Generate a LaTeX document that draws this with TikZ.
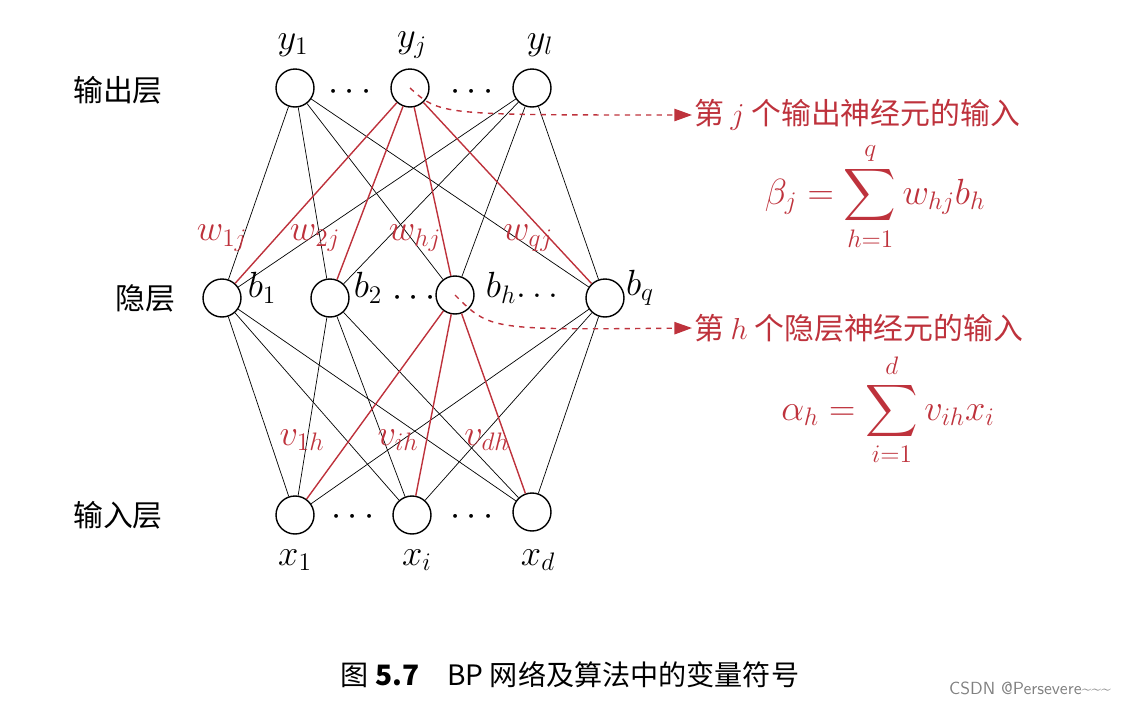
\documentclass[tikz,border=0pt]{standalone}
\usepackage{exscale}
\usepackage{fontspec}
\newfontfamily\cjk{Noto Sans CJK SC}
\usetikzlibrary{arrows.meta}
\definecolor{myred}{RGB}{190,50,60}
\begin{document}
\begin{tikzpicture}[x=0.02cm,y=-0.02cm,
  neuron/.style={circle,draw,thick,minimum size=0.76cm,inner sep=0pt},
  conn/.style={black,thin},
  rconn/.style={myred,thick},
  lbl/.style={font=\fontsize{21}{24}\selectfont},
  rlbl/.style={font=\fontsize{21}{24}\selectfont,text=myred},
  darr/.style={myred,thick,dashed,-{Triangle[length=10pt,width=7pt]}}]
\useasboundingbox (0,0) rectangle (1130,704);
\node[neuron] (y1) at (295,88) {};
\node[neuron] (yj) at (410,88) {};
\node[neuron] (yl) at (532,88) {};
\node[neuron] (b1) at (222,298) {};
\node[neuron] (b2) at (330,298) {};
\node[neuron] (bh) at (455,295) {};
\node[neuron] (bq) at (605,298) {};
\node[neuron] (x1) at (295,515) {};
\node[neuron] (xi) at (412,515) {};
\node[neuron] (xd) at (532,512) {};
\foreach \o in {y1,yl}{\foreach \h in {b1,b2,bh,bq}{\draw[conn] (\o) -- (\h);}}
\foreach \i in {x1,xi,xd}{\foreach \h in {b1,b2,bq}{\draw[conn] (\i) -- (\h);}}
\foreach \h in {b1,b2,bh,bq}{\draw[rconn] (yj) -- (\h);}
\foreach \i in {x1,xi,xd}{\draw[rconn] (bh) -- (\i);}
\node[lbl] (ly1) at (293,45) {$y_1$};
\node[lbl] (lyj) at (412,45) {$y_j$};
\node[lbl] (lyl) at (540,45) {$y_l$};
\node[lbl] (d1) at (350,92) {$\cdots$};
\node[lbl] (d2) at (472,92) {$\cdots$};
\node[lbl] (lb1) at (262,288) {$b_1$};
\node[lbl] (lb2) at (368,288) {$b_2$};
\node[lbl] (lbh) at (522,288) {$b_h\!\ldots$};
\node[lbl] (lbq) at (640,288) {$b_q$};
\node[lbl] (d3) at (414,298) {$\cdots$};
\node[lbl] (lx1) at (295,560) {$x_1$};
\node[lbl] (lxi) at (417,560) {$x_i$};
\node[lbl] (lxd) at (538,560) {$x_d$};
\node[lbl] (d4) at (353,517) {$\cdots$};
\node[lbl] (d5) at (472,517) {$\cdots$};
\node[rlbl] (w1) at (222,238) {$w_{1j}$};
\node[rlbl] (w2) at (315,238) {$w_{2j}$};
\node[rlbl] (wh) at (415,238) {$w_{hj}$};
\node[rlbl] (wq) at (528,238) {$w_{qj}$};
\node[rlbl] (v1) at (302,440) {$v_{1h}$};
\node[rlbl] (vi) at (398,440) {$v_{ih}$};
\node[rlbl] (vd) at (487,440) {$v_{dh}$};
\node[font=\cjk\fontsize{17}{20}\selectfont] (lo) at (118,90) {输出层};
\node[font=\cjk\fontsize{17}{20}\selectfont] (lh) at (145,298) {隐层};
\node[font=\cjk\fontsize{17}{20}\selectfont] (li) at (118,515) {输入层};
\node[anchor=west,text=myred,font=\cjk\fontsize{17}{20}\selectfont,inner sep=1pt] (t1) at (692,115) {第 $j$ 个输出神经元的输入};
\node[anchor=west,text=myred,font=\cjk\fontsize{17}{20}\selectfont,inner sep=1pt] (t2) at (692,328) {第 $h$ 个隐层神经元的输入};
\node[rlbl,font=\fontsize{20}{24}\selectfont,inner sep=1pt] (f1) at (875,197) {$\displaystyle\beta_j=\sum_{h=1}^{q} w_{hj}b_h$};
\node[rlbl,font=\fontsize{20}{24}\selectfont,inner sep=1pt] (f2) at (888,410) {$\displaystyle\alpha_h=\sum_{i=1}^{d} v_{ih}x_i$};
\draw[darr] (yj.center) .. controls (440,115) .. (t1.west);
\draw[darr] (bh.center) .. controls (490,330) .. (t2.west);
\node[font=\cjk\fontsize{16}{20}\selectfont] (cap) at (570,675) {图 \textbf{5.7}\quad BP 网络及算法中的变量符号};
\node[font=\sffamily\fontsize{10}{12}\selectfont,text=gray] (wm) at (1030,688) {CSDN @Persevere\textasciitilde\textasciitilde\textasciitilde};
\end{tikzpicture}
\end{document}
